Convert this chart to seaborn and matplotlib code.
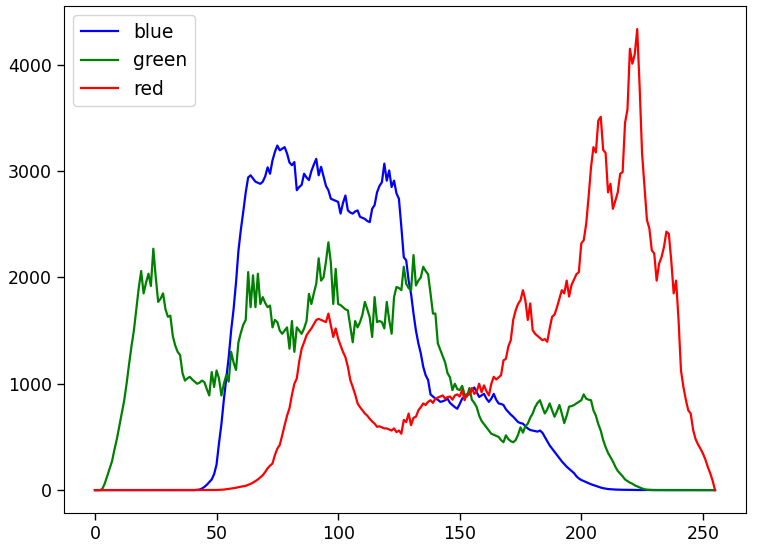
import matplotlib
matplotlib.use('Agg')
import matplotlib.pyplot as plt
import pandas as pd
import seaborn as sns

# pixel value bins 0..255
bins = list(range(256))

blue = [
    0, 0, 0, 0, 0, 0, 0, 0, 0, 0, 0, 0, 0, 0, 0, 0,
    0, 0, 0, 0, 0, 0, 0, 0, 0, 0, 0, 0, 0, 0, 0, 0,
    0, 0, 0, 0, 0, 0, 0, 0, 0, 0, 2, 5, 15, 30, 50, 75,
    100, 150, 240, 440, 620, 850, 1050, 1250, 1500, 1700, 1950, 2250, 2450, 2620, 2800, 2940,
    2960, 2930, 2900, 2890, 2880, 2900, 2950, 3035, 2975, 3100, 3180, 3240, 3195, 3210, 3225, 3165,
    3080, 3055, 3085, 2820, 2850, 2870, 2975, 2940, 2915, 3000, 3060, 3115, 2960, 3040, 2950, 2860,
    2820, 2740, 2730, 2720, 2710, 2600, 2700, 2770, 2630, 2610, 2600, 2620, 2630, 2570, 2560, 2550,
    2530, 2520, 2645, 2680, 2800, 2860, 2895, 3070, 2910, 3005, 2850, 2910, 2790, 2740, 2475, 2190,
    2160, 1970, 1845, 1660, 1500, 1380, 1285, 1160, 1080, 1035, 900, 880, 860, 850, 830, 835,
    845, 860, 820, 800, 780, 765, 810, 860, 876, 890, 905, 940, 965, 920, 876, 890,
    905, 860, 830, 860, 905, 850, 815, 810, 800, 760, 735, 710, 690, 665, 640, 630,
    625, 600, 580, 565, 560, 555, 550, 560, 540, 500, 460, 420, 390, 360, 330, 300,
    270, 245, 220, 200, 180, 160, 130, 110, 95, 85, 75, 65, 55, 47, 38, 30,
    24, 18, 14, 10, 8, 6, 5, 4, 4, 3, 3, 2, 2, 2, 1, 1,
    1, 0, 0, 0, 0, 0, 0, 0, 0, 0, 0, 0, 0, 0, 0, 0,
    0, 0, 0, 0, 0, 0, 0, 0, 0, 0, 0, 0, 0, 0, 0, 0,
]

green = [
    0, 0, 0, 10, 60, 130, 200, 270, 380, 480, 600, 720, 840, 1000, 1180, 1350,
    1500, 1700, 1900, 2060, 1850, 1950, 2035, 1920, 2270, 2000, 1770, 1800, 1850, 1700, 1630, 1640,
    1450, 1360, 1300, 1270, 1100, 1030, 1050, 1065, 1040, 1020, 1000, 1010, 1030, 1015, 950, 890,
    1110, 970, 1125, 1050, 890, 1000, 1080, 1020, 1300, 1200, 1130, 1390, 1480, 1555, 1600, 2050,
    1720, 2020, 1720, 2035, 1750, 1815, 1760, 1720, 1735, 1530, 1600, 1580, 1500, 1470, 1500, 1530,
    1330, 1590, 1300, 1530, 1500, 1470, 1520, 1590, 1845, 1750, 1850, 1940, 2180, 1970, 2000, 2150,
    2330, 2140, 1750, 2080, 1750, 1740, 1720, 1700, 1690, 1540, 1390, 1590, 1530, 1580, 1650, 1770,
    1700, 1625, 1440, 1815, 1580, 1590, 1580, 1520, 1770, 1600, 1470, 1815, 1910, 1900, 1880, 2100,
    1940, 1900, 1880, 2210, 1925, 1970, 2000, 2100, 2060, 2030, 1850, 1660, 1660, 1380, 1320, 1260,
    1200, 1100, 1060, 940, 1000, 950, 940, 980, 900, 880, 960, 850, 820, 780, 700, 650,
    620, 590, 560, 530, 520, 510, 500, 470, 450, 515, 480, 460, 450, 470, 520, 590,
    540, 600, 625, 680, 720, 780, 820, 845, 780, 720, 760, 815, 750, 690, 740, 800,
    720, 630, 700, 785, 790, 800, 815, 830, 845, 900, 860, 850, 845, 750, 700, 620,
    560, 470, 405, 350, 310, 270, 220, 180, 155, 130, 100, 85, 70, 60, 45, 35,
    25, 15, 8, 4, 2, 1, 0, 0, 0, 0, 0, 0, 0, 0, 0, 0,
    0, 0, 0, 0, 0, 0, 0, 0, 0, 0, 0, 0, 0, 0, 0, 0,
]

red = [
    0, 0, 0, 0, 0, 0, 0, 0, 0, 0, 0, 0, 0, 0, 0, 0,
    0, 0, 0, 0, 0, 0, 0, 0, 0, 0, 0, 0, 0, 0, 0, 0,
    0, 0, 0, 0, 0, 0, 0, 0, 0, 0, 0, 0, 0, 0, 0, 0,
    0, 0, 1, 2, 3, 5, 8, 10, 15, 18, 22, 28, 32, 36, 40, 50,
    58, 70, 85, 100, 120, 140, 170, 205, 230, 250, 330, 390, 425, 515, 610, 700,
    770, 895, 1000, 1050, 1210, 1330, 1390, 1455, 1490, 1520, 1560, 1600, 1610, 1600, 1590, 1580,
    1660, 1550, 1440, 1520, 1425, 1360, 1300, 1250, 1160, 1035, 970, 900, 815, 780, 750, 720,
    700, 670, 645, 625, 595, 600, 590, 580, 580, 570, 560, 580, 545, 560, 530, 660,
    640, 720, 610, 680, 690, 750, 780, 815, 800, 830, 845, 820, 860, 870, 880, 890,
    860, 875, 880, 850, 890, 900, 880, 940, 845, 905, 900, 960, 905, 930, 1000, 920,
    985, 930, 890, 1000, 1065, 1040, 1060, 1080, 1220, 1235, 1350, 1410, 1600, 1690, 1750, 1785,
    1880, 1785, 1600, 1755, 1505, 1470, 1450, 1430, 1410, 1420, 1395, 1520, 1630, 1650, 1720, 1800,
    1880, 1850, 1970, 1820, 1930, 1980, 2030, 2050, 2320, 2350, 2500, 2755, 3035, 3225, 3175, 3475,
    3510, 3200, 3170, 2800, 2880, 2645, 2720, 2800, 2975, 2990, 3455, 3580, 4150, 4010, 4100, 4335,
    3790, 3165, 2850, 2540, 2460, 2255, 2225, 1970, 2130, 2190, 2285, 2430, 2410, 2160, 1850, 1970,
    1600, 1125, 970, 850, 750, 720, 565, 480, 430, 390, 345, 290, 220, 160, 90, 0,
]

channels = ['blue', 'green', 'red']

df = pd.DataFrame({
    'bin': bins * 3,
    'count': blue + green + red,
    'channel': [c for c in channels for _ in bins],
})

fig, ax = plt.subplots(figsize=(7.57, 5.5), dpi=100)
fig.subplots_adjust(left=0.0845, right=0.9855, top=0.989, bottom=0.067)

sns.lineplot(data=df, x='bin', y='count', hue='channel',
             palette={'blue': 'blue', 'green': 'green', 'red': 'red'},
             linewidth=1.6, ax=ax)
ax.set_xlabel('')
ax.set_ylabel('')
ax.tick_params(labelsize=12.5, length=5, width=1)
sns.move_legend(ax, 'upper left', title=None, fontsize=13.5)

fig.savefig('out.png', dpi=100)
